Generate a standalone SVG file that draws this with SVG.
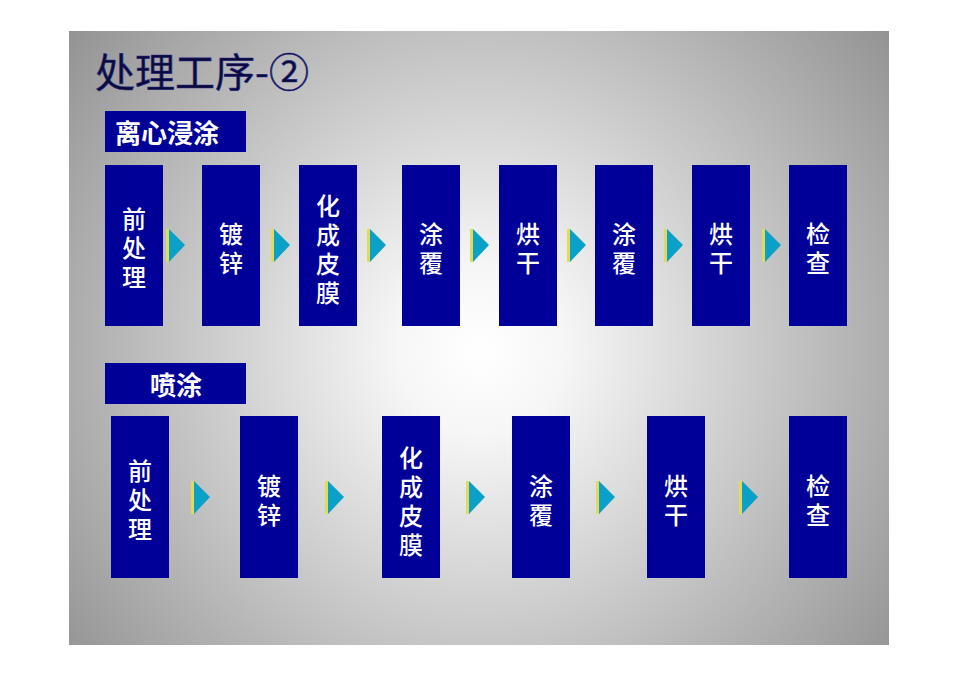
<svg xmlns="http://www.w3.org/2000/svg" width="959" height="678" viewBox="0 0 959 678">
<defs>
<radialGradient id="bg" cx="480" cy="350" r="560" gradientUnits="userSpaceOnUse">
<stop offset="0" stop-color="#ffffff"/>
<stop offset="0.15" stop-color="#f6f6f6"/>
<stop offset="1" stop-color="#8a8a8a"/>
</radialGradient>
<g id="arr">
<rect x="0" y="-16" width="3" height="33" fill="#e0dc5a"/>
<polygon points="3,-16 19,0 3,17" fill="#0aa0c8"/>
</g>
</defs>
<style>
.box{fill:#000099}
.t{font-family:"Noto Sans CJK SC","Noto Sans",sans-serif;font-size:24px;font-weight:500;fill:#ffffff;text-anchor:middle;dominant-baseline:central}
.lb{font-family:"Noto Sans CJK SC","Noto Sans",sans-serif;font-size:26px;font-weight:bold;fill:#ffffff;dominant-baseline:central}
.title{font-family:"Noto Sans CJK SC","Noto Sans",sans-serif;font-size:40px;fill:#0a0a3a;stroke:#2a2a88;stroke-width:0.6}
</style>
<rect x="0" y="0" width="959" height="678" fill="#ffffff"/>
<rect x="69" y="31" width="820" height="614" fill="url(#bg)"/>
<text class="title" x="95" y="87">处理工序-②</text>
<g id="label1"><rect class="box" x="105" y="111" width="141" height="41"/><text class="lb" x="115" y="131">离心浸涂</text></g>
<g id="label2"><rect class="box" x="105" y="363" width="141" height="41"/><text class="lb" x="150" y="383">喷涂</text></g>
<g id="r1n1"><rect class="box" x="105" y="165" width="58" height="161"/><text class="t" x="134" y="217">前</text><text class="t" x="134" y="246">处</text><text class="t" x="134" y="275">理</text></g>
<g id="r1n2"><rect class="box" x="202" y="165" width="58" height="161"/><text class="t" x="231" y="232">镀</text><text class="t" x="231" y="261">锌</text></g>
<g id="r1n3"><rect class="box" x="299" y="165" width="58" height="161"/><text class="t" x="328" y="204">化</text><text class="t" x="328" y="233">成</text><text class="t" x="328" y="262">皮</text><text class="t" x="328" y="291">膜</text></g>
<g id="r1n4"><rect class="box" x="402" y="165" width="58" height="161"/><text class="t" x="431" y="232">涂</text><text class="t" x="431" y="261">覆</text></g>
<g id="r1n5"><rect class="box" x="499" y="165" width="58" height="161"/><text class="t" x="528" y="232">烘</text><text class="t" x="528" y="261">干</text></g>
<g id="r1n6"><rect class="box" x="595" y="165" width="58" height="161"/><text class="t" x="624" y="232">涂</text><text class="t" x="624" y="261">覆</text></g>
<g id="r1n7"><rect class="box" x="692" y="165" width="58" height="161"/><text class="t" x="721" y="232">烘</text><text class="t" x="721" y="261">干</text></g>
<g id="r1n8"><rect class="box" x="789" y="165" width="58" height="161"/><text class="t" x="818" y="232">检</text><text class="t" x="818" y="261">查</text></g>
<g id="r2n1"><rect class="box" x="111" y="416" width="58" height="162"/><text class="t" x="140" y="469">前</text><text class="t" x="140" y="498">处</text><text class="t" x="140" y="527">理</text></g>
<g id="r2n2"><rect class="box" x="240" y="416" width="58" height="162"/><text class="t" x="269" y="484">镀</text><text class="t" x="269" y="513">锌</text></g>
<g id="r2n3"><rect class="box" x="382" y="416" width="58" height="162"/><text class="t" x="411" y="456">化</text><text class="t" x="411" y="485">成</text><text class="t" x="411" y="514">皮</text><text class="t" x="411" y="543">膜</text></g>
<g id="r2n4"><rect class="box" x="512" y="416" width="58" height="162"/><text class="t" x="541" y="484">涂</text><text class="t" x="541" y="513">覆</text></g>
<g id="r2n5"><rect class="box" x="647" y="416" width="58" height="162"/><text class="t" x="676" y="484">烘</text><text class="t" x="676" y="513">干</text></g>
<g id="r2n6"><rect class="box" x="789" y="416" width="58" height="162"/><text class="t" x="818" y="484">检</text><text class="t" x="818" y="513">查</text></g>
<g id="connectors">
<use href="#arr" x="166" y="245"/>
<use href="#arr" x="271" y="245"/>
<use href="#arr" x="367" y="245"/>
<use href="#arr" x="470" y="245"/>
<use href="#arr" x="567" y="245"/>
<use href="#arr" x="664" y="245"/>
<use href="#arr" x="762" y="245"/>
<use href="#arr" x="191" y="497"/>
<use href="#arr" x="325" y="497"/>
<use href="#arr" x="466" y="497"/>
<use href="#arr" x="596" y="497"/>
<use href="#arr" x="739" y="497"/>
</g>
</svg>
